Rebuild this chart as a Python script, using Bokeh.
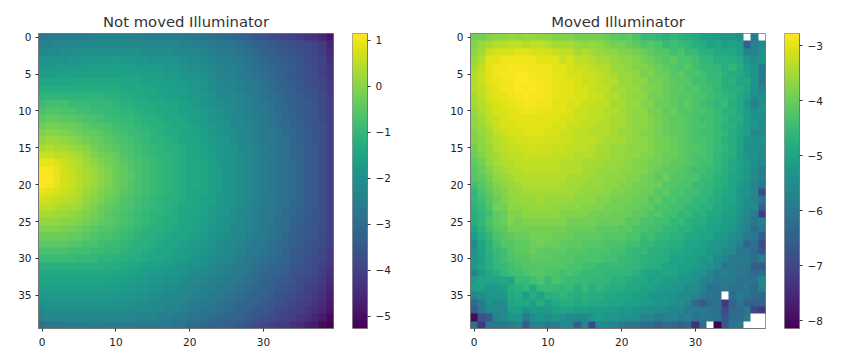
from bokeh.plotting import figure
from bokeh.layouts import row
from bokeh.models import LinearColorMapper, FixedTicker, Range1d
from bokeh.palettes import Viridis256
from bokeh.embed import file_html
from bokeh.resources import INLINE
import numpy as np

n = float("nan")

titles = ["Not moved Illuminator", "Moved Illuminator"]
x_ticks = [0, 10, 20, 30]
y_ticks = [0, 5, 10, 15, 20, 25, 30, 35]
bar_ticks_left = [1, 0, -1, -2, -3, -4, -5]
bar_ticks_right = [-3, -4, -5, -6, -7, -8]
range_left = (-5.27, 1.15)
range_right = (-8.14, -2.78)

not_moved = [
[-2.7,-2.6,-2.5,-2.5,-2.5,-2.5,-2.5,-2.4,-2.4,-2.4,-2.4,-2.4,-2.4,-2.4,-2.5,-2.5,-2.5,-2.5,-2.6,-2.6,-2.7,-2.8,-2.8,-2.9,-2.9,-3.0,-3.1,-3.2,-3.3,-3.5,-3.6,-3.7,-3.8,-3.9,-4.0,-4.1,-4.3,-4.4,-4.6,-4.9],
[-2.4,-2.4,-2.3,-2.3,-2.3,-2.2,-2.2,-2.2,-2.2,-2.2,-2.2,-2.2,-2.2,-2.2,-2.3,-2.3,-2.3,-2.3,-2.3,-2.4,-2.4,-2.5,-2.5,-2.6,-2.7,-2.7,-2.8,-2.9,-3.0,-3.2,-3.3,-3.4,-3.5,-3.6,-3.7,-3.8,-3.9,-4.0,-4.2,-4.6],
[-2.2,-2.2,-2.2,-2.1,-2.1,-2.1,-2.0,-2.0,-2.0,-2.0,-2.0,-2.0,-2.0,-2.0,-2.1,-2.1,-2.1,-2.1,-2.2,-2.2,-2.3,-2.3,-2.4,-2.5,-2.6,-2.6,-2.7,-2.8,-2.9,-3.1,-3.2,-3.3,-3.4,-3.5,-3.6,-3.7,-3.8,-3.9,-4.1,-4.5],
[-2.0,-2.0,-2.0,-2.0,-1.9,-1.9,-1.9,-1.9,-1.9,-1.8,-1.8,-1.8,-1.9,-1.9,-1.9,-2.0,-2.0,-2.0,-2.0,-2.1,-2.2,-2.2,-2.3,-2.4,-2.5,-2.5,-2.6,-2.7,-2.8,-3.0,-3.1,-3.2,-3.3,-3.4,-3.5,-3.6,-3.8,-3.9,-4.0,-4.4],
[-1.9,-1.9,-1.8,-1.8,-1.8,-1.8,-1.7,-1.7,-1.7,-1.7,-1.7,-1.7,-1.7,-1.8,-1.8,-1.8,-1.8,-1.9,-1.9,-2.0,-2.1,-2.1,-2.2,-2.3,-2.4,-2.5,-2.5,-2.6,-2.8,-2.9,-3.0,-3.1,-3.2,-3.3,-3.4,-3.6,-3.7,-3.8,-4.0,-4.3],
[-1.7,-1.7,-1.7,-1.6,-1.6,-1.6,-1.6,-1.6,-1.6,-1.6,-1.6,-1.6,-1.6,-1.6,-1.7,-1.7,-1.7,-1.8,-1.8,-1.9,-2.0,-2.0,-2.1,-2.2,-2.4,-2.4,-2.5,-2.6,-2.7,-2.8,-2.9,-3.1,-3.2,-3.4,-3.5,-3.6,-3.7,-3.8,-4.0,-4.3],
[-1.5,-1.5,-1.5,-1.5,-1.4,-1.4,-1.4,-1.4,-1.4,-1.4,-1.4,-1.5,-1.5,-1.5,-1.6,-1.6,-1.6,-1.7,-1.7,-1.8,-1.9,-1.9,-2.0,-2.1,-2.3,-2.4,-2.4,-2.5,-2.6,-2.7,-2.9,-3.0,-3.1,-3.3,-3.4,-3.5,-3.7,-3.8,-3.9,-4.2],
[-1.3,-1.3,-1.3,-1.3,-1.3,-1.3,-1.3,-1.3,-1.3,-1.3,-1.3,-1.4,-1.4,-1.4,-1.5,-1.5,-1.6,-1.6,-1.7,-1.7,-1.8,-1.9,-2.0,-2.1,-2.2,-2.3,-2.4,-2.5,-2.6,-2.7,-2.8,-3.0,-3.1,-3.2,-3.4,-3.5,-3.6,-3.7,-3.9,-4.2],
[-1.1,-1.1,-1.1,-1.1,-1.1,-1.1,-1.1,-1.1,-1.1,-1.2,-1.2,-1.3,-1.3,-1.4,-1.4,-1.5,-1.5,-1.6,-1.6,-1.7,-1.8,-1.8,-1.9,-2.0,-2.2,-2.3,-2.3,-2.4,-2.5,-2.6,-2.8,-2.9,-3.0,-3.2,-3.3,-3.4,-3.6,-3.7,-3.8,-4.1],
[-0.9,-0.8,-0.8,-0.8,-0.9,-0.9,-0.9,-1.0,-1.0,-1.0,-1.1,-1.2,-1.2,-1.3,-1.3,-1.4,-1.4,-1.5,-1.5,-1.6,-1.7,-1.8,-1.9,-2.0,-2.1,-2.2,-2.3,-2.4,-2.5,-2.6,-2.7,-2.8,-3.0,-3.1,-3.3,-3.4,-3.5,-3.6,-3.8,-4.1],
[-0.7,-0.6,-0.6,-0.7,-0.7,-0.8,-0.8,-0.9,-0.9,-1.0,-1.0,-1.1,-1.1,-1.2,-1.3,-1.3,-1.4,-1.4,-1.5,-1.6,-1.6,-1.7,-1.8,-1.9,-2.0,-2.1,-2.3,-2.4,-2.5,-2.6,-2.7,-2.8,-3.0,-3.1,-3.3,-3.4,-3.5,-3.6,-3.8,-4.1],
[-0.5,-0.4,-0.4,-0.5,-0.5,-0.6,-0.7,-0.7,-0.8,-0.9,-0.9,-1.0,-1.0,-1.1,-1.2,-1.2,-1.3,-1.4,-1.4,-1.5,-1.6,-1.7,-1.8,-1.9,-2.0,-2.1,-2.2,-2.3,-2.4,-2.5,-2.7,-2.8,-2.9,-3.1,-3.2,-3.4,-3.5,-3.6,-3.8,-4.1],
[-0.3,-0.2,-0.2,-0.3,-0.3,-0.4,-0.5,-0.6,-0.6,-0.7,-0.8,-0.9,-0.9,-1.0,-1.1,-1.2,-1.2,-1.3,-1.4,-1.4,-1.5,-1.6,-1.7,-1.8,-1.9,-2.0,-2.2,-2.3,-2.4,-2.5,-2.6,-2.8,-2.9,-3.0,-3.2,-3.3,-3.5,-3.6,-3.7,-4.0],
[-0.1,0.0,0.0,-0.1,-0.2,-0.3,-0.4,-0.4,-0.5,-0.6,-0.7,-0.8,-0.9,-0.9,-1.0,-1.1,-1.2,-1.3,-1.3,-1.4,-1.5,-1.6,-1.7,-1.8,-1.9,-2.0,-2.1,-2.2,-2.3,-2.5,-2.6,-2.7,-2.8,-3.0,-3.1,-3.3,-3.4,-3.6,-3.7,-4.0],
[0.1,0.2,0.2,0.1,0.0,-0.1,-0.2,-0.3,-0.4,-0.5,-0.6,-0.7,-0.8,-0.9,-1.0,-1.1,-1.1,-1.2,-1.3,-1.4,-1.5,-1.5,-1.6,-1.7,-1.8,-1.9,-2.1,-2.2,-2.3,-2.5,-2.6,-2.7,-2.8,-2.9,-3.1,-3.3,-3.4,-3.6,-3.7,-4.0],
[0.3,0.4,0.3,0.3,0.2,0.1,0.0,-0.2,-0.3,-0.4,-0.5,-0.6,-0.7,-0.8,-0.9,-1.0,-1.1,-1.2,-1.2,-1.3,-1.4,-1.5,-1.6,-1.7,-1.8,-1.9,-2.0,-2.2,-2.3,-2.4,-2.5,-2.7,-2.8,-2.9,-3.1,-3.2,-3.4,-3.5,-3.7,-4.0],
[0.6,0.6,0.5,0.5,0.4,0.3,0.1,-0.1,-0.2,-0.3,-0.4,-0.6,-0.7,-0.8,-0.9,-1.0,-1.1,-1.1,-1.2,-1.3,-1.4,-1.5,-1.6,-1.7,-1.8,-1.9,-2.0,-2.1,-2.3,-2.4,-2.6,-2.7,-2.8,-2.9,-3.1,-3.2,-3.4,-3.5,-3.7,-4.0],
[0.9,0.9,0.8,0.6,0.5,0.4,0.2,0.1,-0.1,-0.2,-0.3,-0.5,-0.6,-0.7,-0.8,-0.9,-1.0,-1.1,-1.2,-1.3,-1.4,-1.4,-1.5,-1.6,-1.8,-1.9,-2.0,-2.1,-2.3,-2.4,-2.5,-2.7,-2.8,-2.9,-3.0,-3.2,-3.4,-3.5,-3.7,-4.0],
[1.1,1.05,0.9,0.7,0.55,0.4,0.3,0.2,0.0,-0.1,-0.3,-0.4,-0.6,-0.7,-0.8,-0.9,-1.0,-1.1,-1.2,-1.3,-1.4,-1.4,-1.5,-1.6,-1.7,-1.9,-2.0,-2.1,-2.3,-2.4,-2.5,-2.7,-2.8,-2.9,-3.0,-3.2,-3.4,-3.5,-3.7,-4.0],
[1.15,1.1,0.95,0.7,0.6,0.45,0.3,0.2,0.0,-0.1,-0.3,-0.4,-0.5,-0.7,-0.8,-0.9,-1.0,-1.1,-1.2,-1.3,-1.4,-1.4,-1.5,-1.6,-1.7,-1.9,-2.0,-2.1,-2.3,-2.4,-2.5,-2.7,-2.8,-2.9,-3.0,-3.2,-3.4,-3.5,-3.7,-4.0],
[1.1,1.05,0.9,0.7,0.6,0.45,0.3,0.2,0.0,-0.1,-0.3,-0.4,-0.6,-0.7,-0.8,-0.9,-1.0,-1.1,-1.2,-1.3,-1.4,-1.4,-1.5,-1.6,-1.7,-1.9,-2.0,-2.1,-2.3,-2.4,-2.5,-2.7,-2.8,-2.9,-3.0,-3.2,-3.4,-3.5,-3.7,-4.0],
[0.9,0.85,0.75,0.6,0.5,0.4,0.2,0.1,-0.1,-0.2,-0.3,-0.5,-0.6,-0.7,-0.8,-0.9,-1.0,-1.1,-1.2,-1.3,-1.4,-1.5,-1.5,-1.6,-1.8,-1.9,-2.0,-2.1,-2.3,-2.4,-2.6,-2.7,-2.8,-2.9,-3.0,-3.2,-3.4,-3.5,-3.7,-4.0],
[0.7,0.65,0.55,0.5,0.4,0.3,0.1,0.0,-0.1,-0.3,-0.4,-0.6,-0.7,-0.8,-0.9,-1.0,-1.1,-1.2,-1.2,-1.3,-1.4,-1.5,-1.6,-1.6,-1.8,-1.9,-2.0,-2.1,-2.3,-2.4,-2.6,-2.7,-2.8,-2.9,-3.0,-3.2,-3.4,-3.5,-3.7,-4.0],
[0.5,0.5,0.4,0.3,0.3,0.2,0.0,-0.1,-0.3,-0.4,-0.5,-0.6,-0.7,-0.8,-0.9,-1.0,-1.1,-1.2,-1.3,-1.4,-1.4,-1.5,-1.6,-1.7,-1.8,-1.9,-2.0,-2.2,-2.3,-2.5,-2.6,-2.7,-2.8,-2.9,-3.1,-3.2,-3.4,-3.5,-3.7,-4.0],
[0.3,0.3,0.2,0.2,0.1,0.0,-0.1,-0.2,-0.3,-0.5,-0.6,-0.7,-0.8,-0.9,-1.0,-1.1,-1.1,-1.2,-1.3,-1.4,-1.5,-1.5,-1.6,-1.7,-1.8,-1.9,-2.1,-2.2,-2.3,-2.5,-2.6,-2.7,-2.8,-3.0,-3.1,-3.3,-3.4,-3.6,-3.7,-4.0],
[0.1,0.1,0.1,0.0,0.0,-0.1,-0.2,-0.3,-0.4,-0.5,-0.6,-0.7,-0.8,-0.9,-1.0,-1.1,-1.2,-1.3,-1.3,-1.4,-1.5,-1.6,-1.7,-1.8,-1.9,-2.0,-2.1,-2.2,-2.4,-2.5,-2.6,-2.7,-2.9,-3.0,-3.2,-3.3,-3.5,-3.6,-3.7,-4.0],
[-0.1,-0.1,-0.1,-0.2,-0.2,-0.3,-0.4,-0.5,-0.6,-0.6,-0.7,-0.8,-0.9,-1.0,-1.1,-1.2,-1.2,-1.3,-1.4,-1.5,-1.5,-1.6,-1.7,-1.8,-1.9,-2.0,-2.2,-2.3,-2.4,-2.5,-2.7,-2.8,-2.9,-3.0,-3.2,-3.4,-3.5,-3.6,-3.8,-4.0],
[-0.3,-0.3,-0.3,-0.3,-0.4,-0.4,-0.5,-0.6,-0.7,-0.7,-0.8,-0.9,-1.0,-1.1,-1.2,-1.2,-1.3,-1.4,-1.5,-1.5,-1.6,-1.7,-1.8,-1.9,-2.0,-2.1,-2.2,-2.3,-2.5,-2.6,-2.7,-2.8,-2.9,-3.1,-3.3,-3.4,-3.5,-3.6,-3.8,-4.1],
[-0.5,-0.5,-0.5,-0.5,-0.6,-0.6,-0.7,-0.7,-0.8,-0.9,-0.9,-1.0,-1.1,-1.2,-1.2,-1.3,-1.4,-1.5,-1.5,-1.6,-1.7,-1.8,-1.8,-1.9,-2.1,-2.2,-2.3,-2.4,-2.5,-2.6,-2.7,-2.9,-3.0,-3.1,-3.3,-3.4,-3.6,-3.7,-3.8,-4.1],
[-0.7,-0.7,-0.7,-0.7,-0.8,-0.8,-0.8,-0.9,-0.9,-1.0,-1.0,-1.1,-1.2,-1.2,-1.3,-1.4,-1.5,-1.5,-1.6,-1.7,-1.7,-1.8,-1.9,-2.0,-2.1,-2.2,-2.3,-2.4,-2.6,-2.7,-2.8,-2.9,-3.0,-3.2,-3.4,-3.5,-3.6,-3.7,-3.9,-4.2],
[-0.9,-0.9,-0.9,-0.9,-0.9,-1.0,-1.0,-1.0,-1.1,-1.1,-1.2,-1.2,-1.3,-1.3,-1.4,-1.5,-1.5,-1.6,-1.7,-1.7,-1.8,-1.9,-2.0,-2.1,-2.2,-2.3,-2.4,-2.5,-2.7,-2.8,-2.9,-3.0,-3.1,-3.2,-3.4,-3.5,-3.7,-3.8,-3.9,-4.2],
[-1.2,-1.2,-1.2,-1.2,-1.2,-1.2,-1.2,-1.2,-1.2,-1.3,-1.3,-1.4,-1.4,-1.5,-1.6,-1.6,-1.7,-1.7,-1.8,-1.9,-2.0,-2.0,-2.1,-2.2,-2.3,-2.4,-2.5,-2.6,-2.7,-2.9,-3.0,-3.1,-3.2,-3.3,-3.5,-3.6,-3.7,-3.8,-4.0,-4.3],
[-1.4,-1.4,-1.4,-1.4,-1.4,-1.4,-1.4,-1.4,-1.4,-1.4,-1.5,-1.5,-1.6,-1.6,-1.7,-1.8,-1.8,-1.9,-1.9,-2.0,-2.1,-2.2,-2.2,-2.3,-2.4,-2.5,-2.6,-2.7,-2.8,-3.0,-3.1,-3.2,-3.3,-3.4,-3.6,-3.7,-3.8,-3.9,-4.1,-4.4],
[-1.5,-1.5,-1.5,-1.5,-1.5,-1.5,-1.5,-1.5,-1.5,-1.6,-1.6,-1.7,-1.7,-1.8,-1.8,-1.9,-1.9,-2.0,-2.0,-2.1,-2.2,-2.3,-2.4,-2.5,-2.5,-2.6,-2.7,-2.8,-2.9,-3.0,-3.2,-3.3,-3.4,-3.5,-3.6,-3.8,-3.9,-4.0,-4.2,-4.5],
[-1.7,-1.7,-1.6,-1.6,-1.6,-1.6,-1.6,-1.7,-1.7,-1.7,-1.7,-1.8,-1.8,-1.9,-1.9,-2.0,-2.0,-2.1,-2.1,-2.2,-2.3,-2.4,-2.5,-2.5,-2.6,-2.7,-2.8,-2.9,-3.0,-3.1,-3.2,-3.3,-3.5,-3.6,-3.7,-3.8,-4.0,-4.1,-4.3,-4.6],
[-1.8,-1.8,-1.8,-1.8,-1.8,-1.8,-1.8,-1.8,-1.8,-1.8,-1.8,-1.9,-1.9,-2.0,-2.0,-2.1,-2.1,-2.2,-2.2,-2.3,-2.4,-2.5,-2.5,-2.6,-2.7,-2.8,-2.9,-3.0,-3.1,-3.2,-3.3,-3.4,-3.6,-3.7,-3.8,-3.9,-4.0,-4.2,-4.4,-4.7],
[-2.0,-1.9,-1.9,-1.9,-1.9,-1.9,-1.9,-1.9,-1.9,-1.9,-2.0,-2.0,-2.0,-2.1,-2.1,-2.2,-2.2,-2.3,-2.3,-2.4,-2.5,-2.6,-2.6,-2.7,-2.8,-2.9,-3.0,-3.1,-3.2,-3.3,-3.4,-3.5,-3.6,-3.8,-3.9,-4.0,-4.1,-4.3,-4.5,-4.8],
[-2.2,-2.1,-2.1,-2.1,-2.1,-2.1,-2.1,-2.1,-2.1,-2.1,-2.1,-2.1,-2.2,-2.2,-2.2,-2.3,-2.3,-2.4,-2.4,-2.5,-2.6,-2.7,-2.8,-2.8,-2.9,-3.0,-3.1,-3.2,-3.3,-3.5,-3.5,-3.6,-3.8,-3.9,-4.0,-4.1,-4.3,-4.4,-4.6,-4.9],
[-2.4,-2.3,-2.3,-2.3,-2.3,-2.3,-2.3,-2.3,-2.3,-2.3,-2.3,-2.3,-2.3,-2.4,-2.4,-2.4,-2.5,-2.5,-2.6,-2.6,-2.8,-2.8,-2.9,-3.0,-3.1,-3.1,-3.2,-3.3,-3.4,-3.6,-3.7,-3.8,-3.9,-4.0,-4.1,-4.3,-4.4,-4.6,-4.8,-5.1],
[-2.8,-2.7,-2.7,-2.6,-2.6,-2.6,-2.5,-2.5,-2.5,-2.6,-2.6,-2.6,-2.6,-2.6,-2.6,-2.7,-2.7,-2.7,-2.8,-2.8,-3.0,-3.0,-3.1,-3.2,-3.2,-3.3,-3.4,-3.5,-3.6,-3.8,-3.9,-4.0,-4.1,-4.2,-4.4,-4.5,-4.7,-4.8,-5.1,-5.27],
]

moved = [
[-3.9,-3.9,-3.8,-3.7,-3.7,-3.6,-3.7,-3.6,-3.6,-3.7,-3.7,-3.8,-3.8,-3.8,-3.9,-3.9,-3.9,-3.9,-4.0,-4.1,-4.2,-4.1,-4.3,-4.5,-4.5,-4.6,-4.7,-4.6,-4.7,-4.8,-4.9,-5.1,-5.1,-5.2,-5.3,-5.3,-5.4,n,-5.9,n],
[-3.8,-3.6,-3.5,-3.4,-3.4,-3.3,-3.3,-3.4,-3.3,-3.3,-3.4,-3.5,-3.5,-3.5,-3.6,-3.7,-3.6,-3.7,-3.8,-3.9,-3.9,-4.0,-4.1,-4.3,-4.2,-4.3,-4.5,-4.4,-4.5,-4.6,-4.7,-4.8,-5.0,-4.9,-5.1,-5.0,-5.1,-6.5,-5.8,-5.6],
[-3.7,-3.5,-3.2,-3.1,-3.1,-3.1,-3.0,-3.0,-3.1,-3.1,-3.1,-3.2,-3.3,-3.3,-3.5,-3.4,-3.5,-3.6,-3.7,-3.7,-3.8,-3.8,-3.9,-4.0,-4.1,-4.2,-4.2,-4.4,-4.3,-4.5,-4.5,-4.7,-4.7,-4.9,-4.9,-4.9,-5.1,-5.7,-5.7,-5.4],
[-3.6,-3.4,-3.0,-3.0,-2.9,-2.9,-2.9,-2.9,-2.9,-3.0,-3.0,-3.0,-3.2,-3.1,-3.3,-3.3,-3.4,-3.5,-3.5,-3.6,-3.7,-3.7,-3.8,-3.9,-4.0,-4.1,-4.2,-4.1,-4.3,-4.3,-4.4,-4.6,-4.6,-4.8,-4.7,-4.8,-4.9,-5.3,-5.5,-5.3],
[-3.5,-3.3,-3.0,-2.9,-2.9,-2.85,-2.85,-2.85,-2.9,-2.9,-2.9,-3.0,-3.0,-3.1,-3.2,-3.2,-3.3,-3.4,-3.4,-3.6,-3.6,-3.7,-3.8,-3.8,-3.9,-4.0,-4.1,-4.2,-4.3,-4.2,-4.4,-4.5,-4.5,-4.6,-4.8,-4.6,-4.8,-5.2,-5.3,-5.9],
[-3.4,-3.2,-3.0,-2.9,-2.85,-2.85,-2.8,-2.8,-2.85,-2.9,-2.9,-2.95,-3.0,-3.1,-3.1,-3.2,-3.2,-3.3,-3.4,-3.5,-3.6,-3.6,-3.7,-3.9,-3.8,-4.0,-4.0,-4.2,-4.1,-4.3,-4.3,-4.4,-4.6,-4.5,-4.7,-4.8,-4.9,-5.1,-5.4,-6.0],
[-3.4,-3.2,-3.0,-2.95,-2.9,-2.85,-2.8,-2.8,-2.85,-2.85,-2.9,-2.95,-3.0,-3.0,-3.1,-3.2,-3.2,-3.3,-3.4,-3.4,-3.6,-3.6,-3.7,-3.7,-3.9,-3.9,-4.0,-4.1,-4.2,-4.2,-4.4,-4.4,-4.5,-4.5,-4.8,-4.7,-5.0,-4.9,-5.3,-6.0],
[-3.4,-3.3,-3.1,-3.0,-2.9,-2.9,-2.8,-2.85,-2.8,-2.85,-2.9,-2.95,-3.0,-3.0,-3.1,-3.1,-3.2,-3.3,-3.3,-3.5,-3.5,-3.6,-3.6,-3.8,-3.8,-3.9,-4.0,-4.1,-4.1,-4.3,-4.2,-4.4,-4.4,-4.6,-4.7,-4.8,-4.8,-5.0,-5.4,-5.7],
[-3.5,-3.3,-3.1,-3.0,-2.95,-2.9,-2.85,-2.8,-2.85,-2.85,-2.9,-2.95,-3.0,-3.0,-3.1,-3.1,-3.2,-3.2,-3.4,-3.4,-3.5,-3.6,-3.7,-3.7,-3.9,-3.9,-4.0,-4.1,-4.2,-4.2,-4.3,-4.3,-4.4,-4.5,-4.6,-4.7,-4.9,-5.1,-5.5,-5.5],
[-3.5,-3.4,-3.2,-3.1,-3.0,-2.95,-2.9,-2.85,-2.85,-2.9,-2.9,-3.0,-3.0,-3.1,-3.1,-3.2,-3.2,-3.3,-3.3,-3.5,-3.5,-3.6,-3.6,-3.8,-3.8,-4.0,-4.0,-4.1,-4.2,-4.1,-4.3,-4.4,-4.5,-4.6,-4.5,-4.8,-4.9,-5.3,-5.8,-5.5],
[-3.6,-3.4,-3.3,-3.1,-3.1,-3.0,-2.95,-2.9,-2.9,-2.95,-2.95,-3.0,-3.0,-3.1,-3.2,-3.2,-3.3,-3.3,-3.4,-3.4,-3.5,-3.6,-3.7,-3.7,-3.9,-3.9,-4.1,-4.0,-4.2,-4.2,-4.3,-4.3,-4.4,-4.5,-4.7,-4.7,-4.9,-5.2,-5.5,-5.4],
[-3.7,-3.5,-3.3,-3.2,-3.1,-3.05,-3.0,-3.0,-3.0,-3.0,-3.0,-3.05,-3.1,-3.1,-3.2,-3.2,-3.3,-3.3,-3.4,-3.5,-3.5,-3.6,-3.7,-3.7,-3.8,-3.9,-4.0,-4.1,-4.1,-4.2,-4.3,-4.4,-4.4,-4.5,-4.6,-4.8,-4.8,-5.1,-5.4,-5.5],
[-3.7,-3.6,-3.4,-3.2,-3.1,-3.1,-3.05,-3.0,-3.0,-3.0,-3.05,-3.1,-3.1,-3.2,-3.2,-3.3,-3.3,-3.4,-3.4,-3.5,-3.5,-3.6,-3.7,-3.7,-3.8,-3.9,-4.0,-4.1,-4.1,-4.2,-4.3,-4.3,-4.4,-4.5,-4.7,-4.7,-4.9,-5.2,-5.3,-5.6],
[-3.8,-3.6,-3.5,-3.3,-3.2,-3.1,-3.1,-3.05,-3.05,-3.05,-3.1,-3.1,-3.2,-3.2,-3.3,-3.3,-3.4,-3.4,-3.4,-3.5,-3.6,-3.6,-3.7,-3.8,-3.8,-3.9,-4.0,-4.1,-4.1,-4.2,-4.3,-4.4,-4.4,-4.5,-4.6,-4.8,-5.0,-5.1,-5.6,-5.6],
[-3.8,-3.7,-3.5,-3.4,-3.3,-3.2,-3.15,-3.15,-3.1,-3.1,-3.15,-3.15,-3.2,-3.2,-3.3,-3.3,-3.3,-3.4,-3.5,-3.5,-3.5,-3.6,-3.7,-3.7,-3.8,-3.9,-3.9,-4.0,-4.1,-4.2,-4.3,-4.3,-4.4,-4.5,-4.7,-4.8,-5.0,-5.3,-5.4,-5.4],
[-3.9,-3.7,-3.6,-3.4,-3.3,-3.25,-3.2,-3.2,-3.15,-3.2,-3.2,-3.2,-3.2,-3.3,-3.3,-3.3,-3.4,-3.5,-3.5,-3.6,-3.6,-3.7,-3.7,-3.7,-3.8,-3.9,-3.9,-4.0,-4.1,-4.2,-4.2,-4.3,-4.4,-4.5,-4.6,-4.8,-5.0,-5.4,-5.5,-5.5],
[-4.0,-3.8,-3.6,-3.5,-3.4,-3.3,-3.3,-3.2,-3.2,-3.2,-3.2,-3.3,-3.3,-3.3,-3.4,-3.4,-3.4,-3.5,-3.5,-3.6,-3.6,-3.7,-3.7,-3.8,-3.8,-3.9,-4.0,-4.0,-4.1,-4.2,-4.3,-4.3,-4.4,-4.6,-4.7,-4.8,-5.1,-5.3,-5.4,-5.6],
[-4.1,-3.9,-3.7,-3.5,-3.4,-3.4,-3.3,-3.3,-3.3,-3.3,-3.3,-3.3,-3.4,-3.4,-3.4,-3.5,-3.5,-3.5,-3.6,-3.6,-3.6,-3.7,-3.8,-3.8,-3.9,-3.9,-4.0,-4.1,-4.1,-4.2,-4.3,-4.4,-4.4,-4.6,-4.7,-4.9,-5.0,-5.2,-5.5,-5.6],
[-4.2,-4.0,-3.8,-3.6,-3.5,-3.4,-3.4,-3.3,-3.3,-3.3,-3.3,-3.3,-3.4,-3.4,-3.4,-3.5,-3.5,-3.6,-3.6,-3.6,-3.7,-3.7,-3.8,-3.8,-3.9,-4.0,-4.1,-4.1,-4.2,-4.3,-4.4,-4.4,-4.5,-4.6,-4.8,-4.9,-5.1,-5.3,-5.5,-5.9],
[-4.2,-4.1,-3.9,-3.7,-3.6,-3.5,-3.4,-3.4,-3.4,-3.4,-3.4,-3.4,-3.4,-3.5,-3.5,-3.5,-3.6,-3.6,-3.7,-3.7,-3.7,-3.8,-3.8,-3.9,-4.0,-4.1,-4.0,-4.2,-4.2,-4.3,-4.3,-4.5,-4.5,-4.7,-4.8,-5.0,-5.1,-5.3,-5.6,-5.8],
[-4.4,-4.2,-4.0,-3.8,-3.7,-3.6,-3.5,-3.4,-3.4,-3.4,-3.4,-3.4,-3.5,-3.5,-3.5,-3.6,-3.6,-3.6,-3.7,-3.7,-3.8,-3.8,-3.9,-3.9,-4.0,-4.0,-4.2,-4.2,-4.3,-4.3,-4.5,-4.5,-4.6,-4.7,-4.8,-5.0,-5.2,-5.4,-5.7,-6.0],
[-4.6,-4.3,-4.1,-3.9,-3.8,-3.6,-3.6,-3.5,-3.5,-3.5,-3.5,-3.5,-3.5,-3.5,-3.6,-3.6,-3.7,-3.7,-3.7,-3.8,-3.8,-3.9,-3.9,-4.0,-4.0,-4.2,-4.1,-4.3,-4.3,-4.4,-4.4,-4.6,-4.6,-4.8,-4.9,-5.0,-5.3,-5.4,-5.6,-6.9],
[-4.6,-4.4,-4.2,-4.0,-3.8,-3.7,-3.6,-3.6,-3.6,-3.5,-3.6,-3.6,-3.6,-3.6,-3.7,-3.7,-3.7,-3.8,-3.8,-3.9,-3.9,-3.9,-4.0,-4.0,-4.2,-4.1,-4.3,-4.3,-4.4,-4.4,-4.6,-4.6,-4.7,-4.8,-5.0,-5.0,-5.3,-5.5,-5.7,-6.1],
[-4.7,-4.5,-4.3,-3.9,-3.9,-3.7,-3.7,-3.7,-3.6,-3.6,-3.6,-3.7,-3.7,-3.7,-3.7,-3.8,-3.8,-3.8,-3.9,-3.9,-3.9,-4.0,-4.0,-4.1,-4.1,-4.3,-4.3,-4.4,-4.4,-4.6,-4.6,-4.7,-4.7,-4.9,-5.0,-5.1,-5.3,-5.6,-5.6,-6.5],
[-4.8,-4.6,-4.4,-4.1,-4.0,-3.8,-3.8,-3.7,-3.7,-3.7,-3.7,-3.7,-3.8,-3.8,-3.8,-3.8,-3.9,-3.9,-3.9,-4.0,-4.0,-4.0,-4.1,-4.1,-4.3,-4.2,-4.4,-4.4,-4.6,-4.5,-4.7,-4.7,-4.9,-4.9,-5.1,-5.1,-5.4,-5.6,-5.9,-7.2],
[-4.8,-4.6,-4.3,-4.1,-4.0,-3.8,-3.9,-3.8,-3.8,-3.8,-3.8,-3.8,-3.8,-3.9,-3.9,-3.9,-3.9,-4.0,-4.0,-4.0,-4.0,-4.2,-4.1,-4.3,-4.3,-4.4,-4.4,-4.6,-4.5,-4.7,-4.8,-4.8,-5.0,-5.0,-5.2,-5.2,-5.5,-5.7,-6.0,-5.8],
[-5.0,-4.7,-4.4,-4.2,-4.1,-3.9,-3.9,-3.9,-3.9,-3.9,-3.9,-3.9,-3.9,-4.0,-4.0,-4.0,-4.0,-4.1,-4.1,-4.1,-4.2,-4.1,-4.3,-4.3,-4.4,-4.4,-4.6,-4.6,-4.7,-4.7,-4.9,-4.9,-5.0,-5.1,-5.2,-5.3,-5.6,-5.8,-6.2,-6.0],
[-5.2,-4.8,-4.6,-4.3,-4.2,-4.1,-4.0,-4.0,-3.9,-3.9,-3.9,-4.0,-4.0,-4.0,-4.1,-4.1,-4.1,-4.1,-4.2,-4.2,-4.2,-4.3,-4.3,-4.5,-4.4,-4.6,-4.6,-4.7,-4.7,-4.9,-4.9,-5.0,-5.0,-5.2,-5.3,-5.5,-5.6,-6.0,-6.0,-6.6],
[-5.6,-5.0,-4.7,-4.4,-4.2,-4.2,-4.1,-4.1,-4.0,-3.9,-4.0,-4.0,-4.1,-4.1,-4.1,-4.2,-4.2,-4.2,-4.3,-4.3,-4.3,-4.4,-4.4,-4.6,-4.6,-4.7,-4.7,-4.8,-4.8,-5.0,-5.0,-5.1,-5.2,-5.3,-5.4,-5.6,-5.8,-6.4,-6.2,-6.9],
[-5.4,-5.0,-4.7,-4.5,-4.4,-4.2,-4.1,-4.1,-4.0,-4.1,-4.1,-4.1,-4.1,-4.2,-4.2,-4.2,-4.3,-4.3,-4.3,-4.4,-4.4,-4.5,-4.6,-4.5,-4.7,-4.7,-4.8,-4.9,-4.9,-5.0,-5.1,-5.1,-5.3,-5.3,-5.6,-5.6,-6.1,-6.0,-6.3,-6.7],
[-5.3,-5.1,-4.8,-4.6,-4.4,-4.3,-4.2,-4.2,-4.1,-4.1,-4.1,-4.2,-4.2,-4.2,-4.3,-4.3,-4.3,-4.3,-4.4,-4.4,-4.5,-4.5,-4.6,-4.7,-4.7,-4.8,-4.8,-5.0,-5.0,-5.1,-5.1,-5.3,-5.2,-5.6,-5.7,-6.0,-5.9,-5.9,-6.2,-5.8],
[-5.3,-5.0,-4.8,-4.6,-4.5,-4.4,-4.3,-4.2,-4.2,-4.2,-4.2,-4.2,-4.2,-4.3,-4.3,-4.4,-4.4,-4.5,-4.5,-4.5,-4.5,-4.6,-4.6,-4.7,-4.8,-4.8,-5.0,-5.0,-5.1,-5.1,-5.2,-5.3,-5.4,-5.6,-6.1,-5.9,-6.0,-6.0,-6.5,-6.6],
[-5.7,-5.2,-4.9,-4.8,-4.6,-4.4,-4.4,-4.3,-4.2,-4.2,-4.3,-4.3,-4.4,-4.3,-4.4,-4.5,-4.5,-4.5,-4.6,-4.6,-4.6,-4.6,-4.7,-4.9,-5.0,-5.0,-4.9,-5.0,-5.2,-5.2,-5.4,-5.4,-5.7,-5.9,-5.8,-6.0,-6.0,-6.1,-6.3,-6.2],
[-5.2,-5.0,-5.0,-5.0,-4.9,-5.0,-4.5,-4.5,-4.4,-4.3,-4.5,-4.3,-4.4,-4.5,-4.5,-4.5,-4.6,-4.6,-4.6,-4.7,-4.7,-4.8,-4.9,-4.9,-5.1,-5.0,-5.2,-5.2,-5.3,-5.3,-5.4,-5.8,-5.8,-5.9,-5.9,-6.0,-6.1,-6.1,-6.1,-5.6],
[-5.1,-5.1,-5.3,-5.2,-5.1,-4.8,-4.7,-4.6,-4.9,-4.5,-4.5,-4.5,-4.6,-4.5,-4.7,-4.5,-4.7,-4.6,-4.7,-4.8,-4.8,-4.9,-4.9,-5.1,-5.0,-5.2,-5.2,-5.3,-5.3,-5.5,-5.5,-5.8,-6.2,-6.1,-6.0,-6.1,-6.1,-6.0,-6.3,-5.7],
[-5.7,-5.5,-5.3,-5.3,-5.3,-4.9,-4.8,-5.1,-4.8,-5.0,-4.7,-4.7,-4.6,-4.7,-4.8,-4.7,-4.8,-4.8,-4.9,-4.9,-5.0,-5.0,-5.1,-5.1,-5.3,-5.3,-5.4,-5.4,-5.6,-5.6,-5.7,-5.9,-6.1,-6.1,n,-6.2,-5.9,-6.1,-6.3,-6.3],
[-6.3,-5.9,-5.4,-5.6,-5.5,-5.0,-4.9,-4.9,-5.1,-4.8,-5.1,-4.9,-4.8,-4.8,-4.9,-4.8,-4.9,-4.9,-4.9,-5.0,-5.0,-5.1,-5.1,-5.2,-5.2,-5.4,-5.3,-5.5,-5.5,-5.7,-6.3,-6.6,-6.2,-6.1,-7.3,-6.4,-6.1,-6.5,-6.5,-6.4],
[-6.6,-6.0,-5.6,-5.6,-5.6,-5.1,-5.1,-5.4,-5.2,-5.3,-5.2,-5.1,-5.0,-5.0,-5.1,-5.1,-5.2,-5.1,-5.2,-5.2,-5.3,-5.2,-5.4,-5.4,-5.5,-5.5,-5.6,-5.7,-5.6,-5.9,-5.9,-6.0,-6.1,-6.2,-6.9,-6.3,-6.3,-6.0,-7.0,-7.3],
[-8.0,-6.8,-6.6,-5.7,-5.6,-5.3,-5.3,-5.9,-5.5,-5.3,-5.5,-5.3,-5.4,-5.6,-5.6,-5.6,-5.3,-5.2,-5.3,-5.3,-5.4,-5.4,-5.5,-5.7,-5.7,-5.9,-5.8,-5.7,-5.9,-5.8,-6.1,-6.0,-6.0,-6.1,-6.7,-6.2,-6.2,-6.0,n,n],
[-6.1,-7.3,-6.0,-6.0,-6.0,-5.8,-5.7,-6.6,-5.8,-5.7,-6.0,-5.8,-5.6,-5.6,-6.5,-5.7,-7.0,-5.6,-5.6,-5.7,-5.9,-6.1,-6.0,-6.2,-6.3,-6.5,-6.2,-6.3,-6.5,-6.3,-7.4,-6.2,n,-8.1,-6.7,-6.1,-6.0,n,n,n],
]

HEIGHT = 350
TOP = 33
BOTTOM = 22


def style_axis(ax, standoff):
    ax.major_label_text_font = "DejaVu Sans"
    ax.major_label_text_font_size = "10.5px"
    ax.major_label_text_color = "#222222"
    ax.major_tick_in = 0
    ax.major_tick_out = 3
    ax.minor_tick_line_color = None
    ax.axis_line_color = "#777777"
    ax.major_tick_line_color = "#333333"
    ax.major_label_standoff = standoff


def panel(title, data, lo, hi, left_border, right_border):
    mapper = LinearColorMapper(palette=Viridis256, low=lo, high=hi, nan_color="white")
    p = figure(width=left_border + 295 + right_border, height=HEIGHT,
               x_range=Range1d(-0.5, 39.5), y_range=Range1d(39.5, -0.5),
               output_backend="svg", toolbar_location=None,
               min_border_left=left_border, min_border_right=right_border,
               min_border_top=TOP, min_border_bottom=BOTTOM)
    p.image(image=[np.array(data, dtype=float)], x=-0.5, y=-0.5, dw=40, dh=40, color_mapper=mapper)
    p.title.text = title
    p.title.align = "center"
    p.title.text_font = "DejaVu Sans"
    p.title.text_font_size = "14.8px"
    p.title.text_font_style = "normal"
    p.title.text_color = "#333333"
    p.title.standoff = 8
    p.grid.visible = False
    p.outline_line_color = "#777777"
    p.xaxis.ticker = FixedTicker(ticks=x_ticks)
    p.yaxis.ticker = FixedTicker(ticks=y_ticks)
    style_axis(p.xaxis[0], 6)
    style_axis(p.yaxis[0], 4)
    return p


def colorbar(lo, hi, bar_ticks, left_border, right_border):
    mapper = LinearColorMapper(palette=Viridis256, low=lo, high=hi)
    p = figure(width=left_border + 15 + right_border, height=HEIGHT,
               x_range=Range1d(0, 1), y_range=Range1d(lo, hi), y_axis_location="right",
               output_backend="svg", toolbar_location=None,
               min_border_left=left_border, min_border_right=right_border,
               min_border_top=TOP, min_border_bottom=BOTTOM)
    levels = np.linspace(lo, hi, 256).reshape(256, 1)
    p.image(image=[levels], x=0, y=lo, dw=1, dh=hi - lo, color_mapper=mapper)
    p.grid.visible = False
    p.xaxis.visible = False
    p.outline_line_color = "#999999"
    p.yaxis.ticker = FixedTicker(ticks=bar_ticks)
    p.yaxis.major_label_overrides = {t: str(t).replace("-", "\u2212") for t in bar_ticks}
    style_axis(p.yaxis[0], 5)
    return p


page = row(
    panel(titles[0], not_moved, range_left[0], range_left[1], 38, 5),
    colorbar(range_left[0], range_left[1], bar_ticks_left, 14, 35),
    panel(titles[1], moved, range_right[0], range_right[1], 68, 5),
    colorbar(range_right[0], range_right[1], bar_ticks_right, 14, 40),
    spacing=0,
)
open("out.html", "w").write(file_html(page, INLINE))
